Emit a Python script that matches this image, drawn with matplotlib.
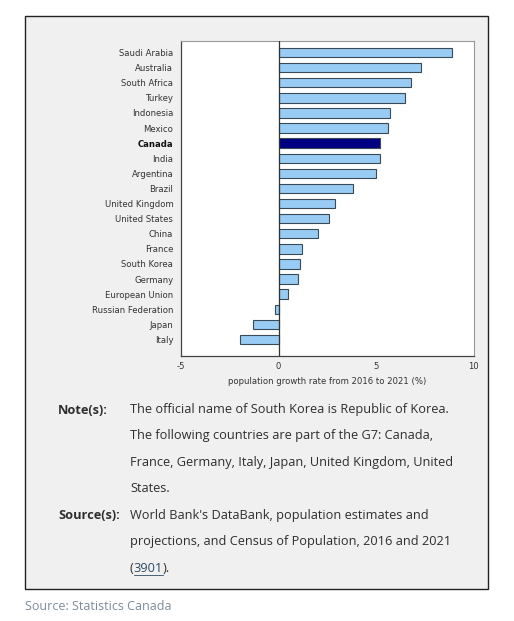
import matplotlib
matplotlib.use("Agg")
import matplotlib.pyplot as plt
from matplotlib.patches import Rectangle
from matplotlib.lines import Line2D

countries = ["Saudi Arabia", "Australia", "South Africa", "Turkey", "Indonesia",
             "Mexico", "Canada", "India", "Argentina", "Brazil", "United Kingdom",
             "United States", "China", "France", "South Korea", "Germany",
             "European Union", "Russian Federation", "Japan", "Italy"]
growth = [8.9, 7.3, 6.8, 6.5, 5.7, 5.6, 5.2, 5.2, 5.0, 3.8, 2.9, 2.6, 2.0,
          1.2, 1.1, 1.0, 0.5, -0.2, -1.3, -2.0]
highlight = "Canada"
xticks = [-5, 0, 5, 10]
xlabel = "population growth rate from 2016 to 2021 (%)"

W, H = 514, 621
fig = plt.figure(figsize=(W / 100, H / 100), dpi=100)
fig.patch.set_facecolor("white")

def fx(px):
    return px / W

def fy(py):
    return 1 - py / H

# outer panel
fig.patches.append(Rectangle((fx(25), fy(589)), fx(488) - fx(25), fy(16) - fy(589),
                             transform=fig.transFigure, facecolor="#f0f0f0",
                             edgecolor="#222222", linewidth=1.0, zorder=-5))

ax = fig.add_axes([fx(181), fy(356), fx(473.5) - fx(181), fy(40.5) - fy(356)])
ax.set_zorder(2)
ax.set_facecolor("white")
ypos = list(range(len(countries)))
colors = ["#000080" if c == highlight else "#99ccf5" for c in countries]
ax.barh(ypos, growth, height=0.62, color=colors, edgecolor="#3a4a56", linewidth=0.8, zorder=3)
ax.axvline(0, color="#333333", linewidth=0.9, zorder=4)
ax.set_xlim(-5, 10)
ax.set_ylim(20.1, -0.8)
ax.set_yticks(ypos)
lfs = 6.1
ax.set_yticklabels(countries, fontsize=lfs, color="#333333", family="DejaVu Sans")
for lab in ax.get_yticklabels():
    if lab.get_text() == highlight:
        lab.set_fontweight("bold")
        lab.set_color("#111111")
ax.set_xticks(xticks)
ax.set_xticklabels([str(t) for t in xticks], fontsize=lfs, color="#333333")
ax.tick_params(axis="y", length=0, pad=5.5)
ax.tick_params(axis="x", length=0, pad=4.5)
ax.set_xlabel(xlabel, fontsize=lfs, color="#333333", labelpad=4.5)
for side in ["top", "right"]:
    ax.spines[side].set_color("#999999")
    ax.spines[side].set_linewidth(0.8)
for side in ["left", "bottom"]:
    ax.spines[side].set_color("#444444")
    ax.spines[side].set_linewidth(0.9)

fam = ["Open Sans", "DejaVu Sans"]
fs = 9.2
tc = "#2e2e2e"
fig.text(fx(58), fy(410), "Note(s):", fontsize=fs, fontweight="bold", color=tc,
         family=fam, va="center", ha="left")
note_lines = ["The official name of South Korea is Republic of Korea.",
              "The following countries are part of the G7: Canada,",
              "France, Germany, Italy, Japan, United Kingdom, United",
              "States."]
note_y = [410, 436, 462.5, 489]
for t, y in zip(note_lines, note_y):
    fig.text(fx(130), fy(y), t, fontsize=fs, color=tc, family=fam, va="center", ha="left")

fig.text(fx(58), fy(515.5), "Source(s):", fontsize=fs, fontweight="bold", color=tc,
         family=fam, va="center", ha="left")
src_lines = ["World Bank's DataBank, population estimates and",
             "projections, and Census of Population, 2016 and 2021"]
for t, y in zip(src_lines, [515.5, 542]):
    fig.text(fx(130), fy(y), t, fontsize=fs, color=tc, family=fam, va="center", ha="left")

fig.canvas.draw()
r = fig.canvas.get_renderer()
t1 = fig.text(fx(130), fy(568.5), "(", fontsize=fs, color=tc, family=fam, va="center", ha="left")
fig.canvas.draw()
b1 = t1.get_window_extent(r)
t2 = fig.text(b1.x1 / W, fy(568.5), "3901", fontsize=fs, color="#2e4a66", family=fam,
              va="center", ha="left")
fig.canvas.draw()
b2 = t2.get_window_extent(r)
fig.text(b2.x1 / W, fy(568.5), ").", fontsize=fs, color=tc, family=fam, va="center", ha="left")
fig.lines.append(Line2D([b2.x0 / W, b2.x1 / W], [fy(574.5), fy(574.5)],
                        transform=fig.transFigure, color="#2e4a66", linewidth=0.6))

fig.text(fx(25), fy(606), "Source: Statistics Canada", fontsize=9.0, color="#7d8b99",
         family=fam, va="center", ha="left")

fig.savefig("out.png", dpi=100, facecolor="white")
